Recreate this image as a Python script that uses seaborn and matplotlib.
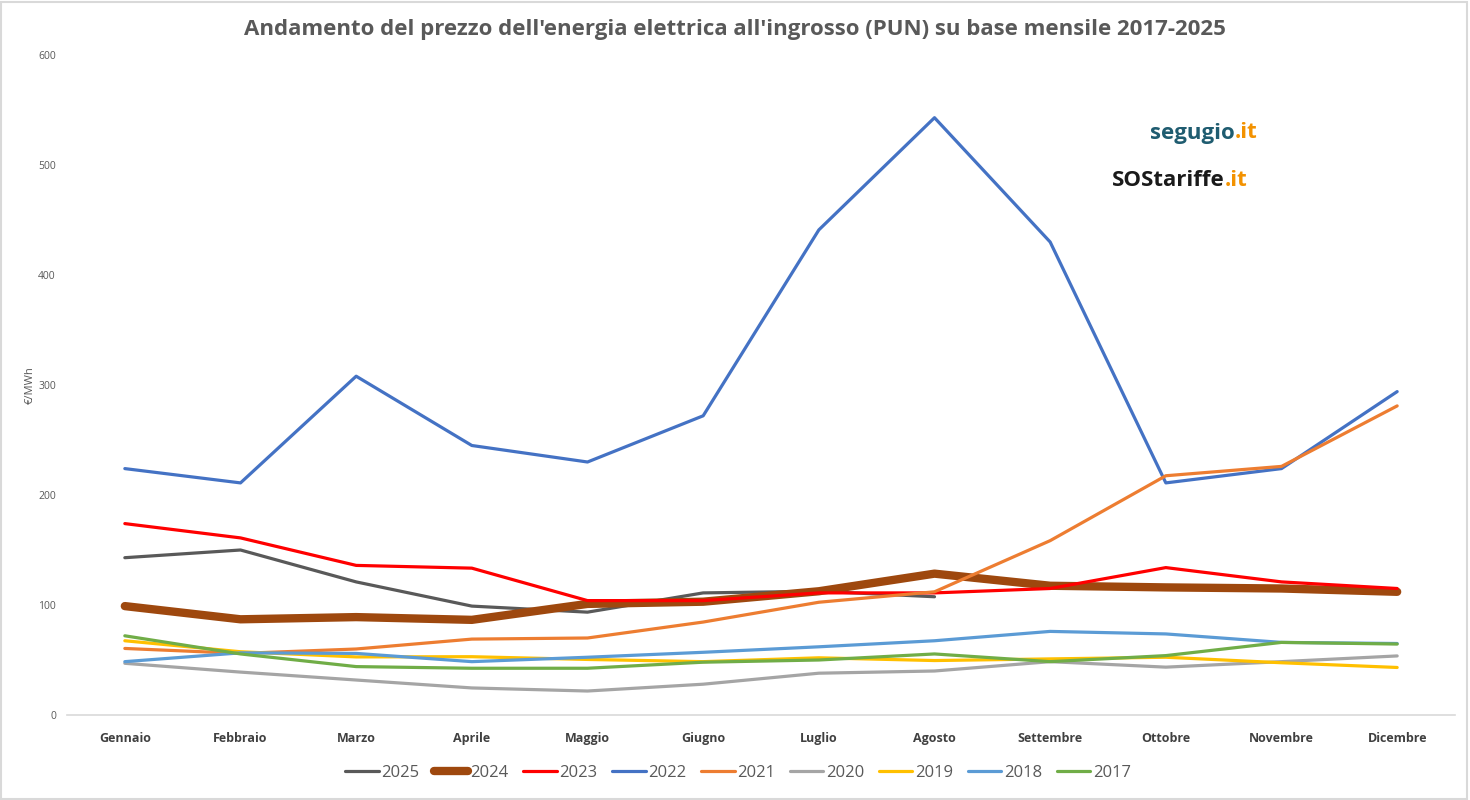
import numpy as np
import pandas as pd
import matplotlib
matplotlib.use("Agg")
import matplotlib.pyplot as plt
import seaborn as sns
from matplotlib.patches import Rectangle

months = ["Gennaio", "Febbraio", "Marzo", "Aprile", "Maggio", "Giugno",
          "Luglio", "Agosto", "Settembre", "Ottobre", "Novembre", "Dicembre"]

y2025 = [143, 150, 121, 99, 93.5, 111, 112.5, 107.5]
y2024 = [99, 87, 89, 86.5, 101, 103, 112.5, 128.5, 117.5, 116, 115, 112]
y2023 = [174, 161, 136, 133.5, 104, 104, 111, 111, 115, 134, 121, 115]
y2022 = [224, 211, 308, 245, 230, 272, 441, 543, 430, 211, 224, 294]
y2021 = [60.5, 56, 60, 69, 70, 84.5, 102.5, 112, 158.5, 217.5, 226, 281]
y2020 = [47, 39, 31.8, 24.6, 21.8, 28, 38, 40, 48.5, 43.5, 48.5, 53.7]
y2019 = [67.5, 57.5, 52.8, 53, 50.5, 48.5, 52, 49.5, 51, 52.5, 47.5, 43.2]
y2018 = [48.5, 56.5, 56, 48.5, 52.5, 57, 62, 67.5, 76, 73.7, 66, 65]
y2017 = [72, 55.5, 44, 42.5, 42.5, 48, 50, 55.5, 48.5, 54, 66, 64.5]

years = ["2025", "2024", "2023", "2022", "2021", "2020", "2019", "2018", "2017"]
series = [y2025, y2024, y2023, y2022, y2021, y2020, y2019, y2018, y2017]
colors = ["#595959", "#9E480E", "#FF0000", "#4472C4", "#ED7D31",
          "#A5A5A5", "#FFC000", "#5B9BD5", "#70AD47"]
widths = [2.3, 6.0, 2.3, 2.3, 2.3, 2.3, 2.3, 2.3, 2.3]

rows = []
for yr, vals in zip(years, series):
    for i, v in enumerate(vals):
        rows.append({"Anno": yr, "pos": i, "Mese": months[i], "Prezzo": v})
df = pd.DataFrame(rows)

sns.set_theme(style="white")
plt.rcParams["font.family"] = ["Open Sans", "DejaVu Sans"]

fig = plt.figure(figsize=(14.7, 8.0), dpi=100)
ax = fig.add_axes([67 / 1470, 1 - 715 / 800, (1455 - 67) / 1470, (715 - 55) / 800])

for k, (yr, col, lw) in enumerate(zip(years, colors, widths)):
    sub = df[df["Anno"] == yr]
    sns.lineplot(data=sub, x="pos", y="Prezzo", color=col, linewidth=lw,
                 ax=ax, label=yr, zorder=3 + k, sort=False,
                 solid_capstyle="round", solid_joinstyle="round")

ax.set_xlim(-0.5, 11.5)
ax.set_ylim(0, 600)
ax.set_xticks(range(12))
ax.set_xticklabels(months, fontsize=9, fontweight="bold", color="#404040")
ax.set_yticks(range(0, 601, 100))
ax.set_yticklabels([str(v) for v in range(0, 601, 100)], fontsize=7.5, color="#595959")
ax.tick_params(axis="both", length=0)
ax.tick_params(axis="x", pad=12)
ax.tick_params(axis="y", pad=8)
ax.set_xlabel("")
ax.set_ylabel("€/MWh", fontsize=8, color="#595959", labelpad=2)
for s in ["top", "right", "left"]:
    ax.spines[s].set_visible(False)
ax.spines["bottom"].set_color("#D9D9D9")
ax.spines["bottom"].set_linewidth(1.2)
ax.grid(False)

handles, labels = ax.get_legend_handles_labels()
if ax.legend_:
    ax.legend_.remove()
fig.legend(handles, labels, loc="center", bbox_to_anchor=(738 / 1470, 1 - 773 / 800),
           ncol=9, frameon=False, fontsize=12, handlelength=2.0, handletextpad=0.15,
           columnspacing=0.9, labelcolor="#595959")

fig.text(735 / 1470, 1 - 30 / 800,
         "Andamento del prezzo dell'energia elettrica all'ingrosso (PUN) su base mensile 2017-2025",
         ha="center", va="center", fontsize=16, fontweight="bold", color="#595959")

# logo texts
t1 = fig.text(1150 / 1470, 1 - 133 / 800, "segugio", fontsize=16, fontweight="bold",
              color="#1F5C70", ha="left", va="center")
plt.annotate(".it", xy=(1, 0.5), xycoords=t1, xytext=(0, 0), textcoords="offset points",
             fontsize=16, fontweight="bold", color="#F39200", ha="left", va="center")
t2 = fig.text(1112 / 1470, 1 - 180 / 800, "SOStariffe", fontsize=16, fontweight="bold",
              color="#1A1A1A", ha="left", va="center")
plt.annotate(".it", xy=(1, 0.5), xycoords=t2, xytext=(0, 0), textcoords="offset points",
             fontsize=16, fontweight="bold", color="#F39200", ha="left", va="center")

fig.patches.append(Rectangle((0.001, 0.001), 0.997, 0.997, transform=fig.transFigure,
                             fill=False, edgecolor="#D9D9D9", linewidth=1.5))

fig.savefig("out.png", dpi=100, facecolor="white")
